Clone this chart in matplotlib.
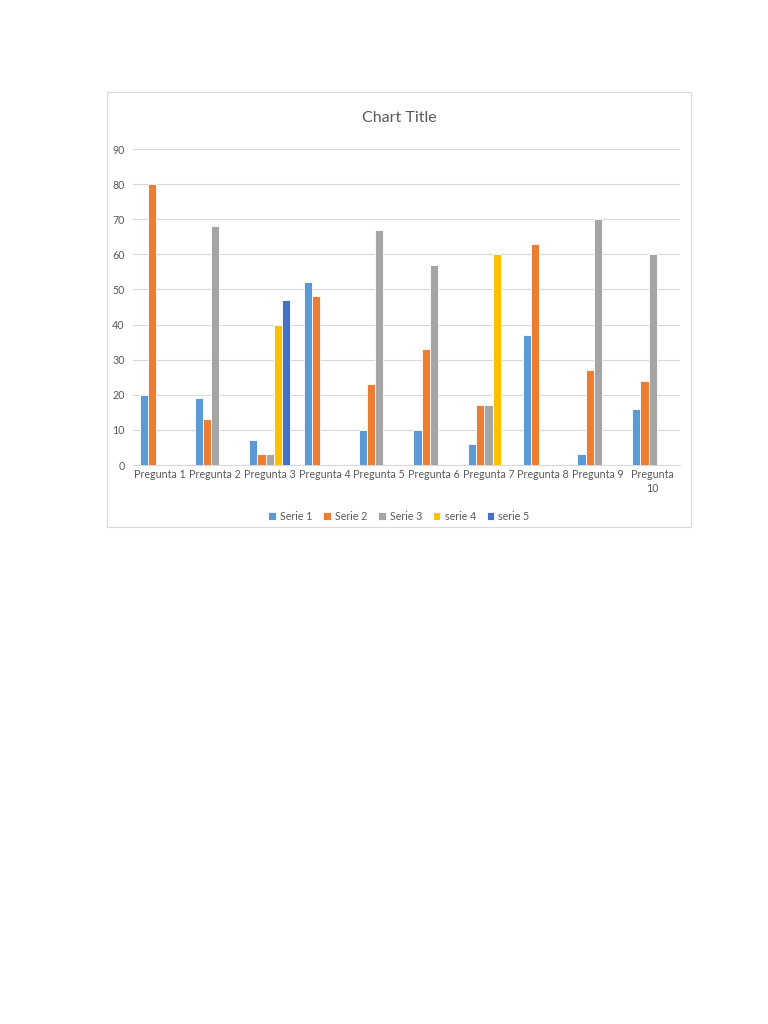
import matplotlib.pyplot as plt
import numpy as np
from matplotlib.patches import Rectangle

categories = ['Pregunta 1', 'Pregunta 2', 'Pregunta 3', 'Pregunta 4', 'Pregunta 5',
              'Pregunta 6', 'Pregunta 7', 'Pregunta 8', 'Pregunta 9', 'Pregunta\n10']
serie1 = [20, 19, 7, 52, 10, 10, 6, 37, 3, 16]
serie2 = [80, 13, 3, 48, 23, 33, 17, 63, 27, 24]
serie3 = [0, 68, 3, 0, 67, 57, 17, 0, 70, 60]
serie4 = [0, 0, 40, 0, 0, 0, 60, 0, 0, 0]
serie5 = [0, 0, 47, 0, 0, 0, 0, 0, 0, 0]
series_names = ['Serie 1', 'Serie 2', 'Serie 3', 'serie 4', 'serie 5']
colors = ['#5B9BD5', '#ED7D31', '#A5A5A5', '#FFC000', '#4472C4']

plt.rcParams['font.family'] = ['Lato', 'DejaVu Sans']

fig = plt.figure(figsize=(7.68, 10.24), dpi=100)
# chart frame
fig.patches.append(Rectangle((107 / 768, 1 - 527 / 1024), 584 / 768, 435 / 1024,
                             transform=fig.transFigure, facecolor='none',
                             edgecolor='#d9d9d9', linewidth=0.8, zorder=-1))

ax = fig.add_axes([133 / 768, 1 - 465 / 1024, 547 / 768, 316 / 1024])
ax.set_facecolor('none')

x = np.arange(len(categories))
w = 0.15
all_series = [serie1, serie2, serie3, serie4, serie5]
for i, (vals, name, c) in enumerate(zip(all_series, series_names, colors)):
    ax.bar(x + (i - 2) * w, vals, width=w, color=c, label=name,
           edgecolor='white', linewidth=0.6, zorder=3)

ax.set_xlim(-0.5, len(categories) - 0.5)
ax.set_ylim(0, 90)
ax.set_yticks(range(0, 91, 10))
ax.set_xticks(x)
ax.set_xticklabels(categories, fontsize=7.7, color='#595959', linespacing=1.3)
ax.tick_params(axis='y', labelsize=7.7, labelcolor='#595959', length=0, pad=6)
ax.tick_params(axis='x', length=0, pad=3)
ax.grid(axis='y', color='#d9d9d9', linewidth=0.8, zorder=0)
for s in ['top', 'right', 'left']:
    ax.spines[s].set_visible(False)
ax.spines['bottom'].set_color('#d9d9d9')
ax.spines['bottom'].set_linewidth(0.8)

fig.text(399 / 768, 1 - 118 / 1024, 'Chart Title', ha='center', va='center',
         fontsize=11.5, color='#595959')

fig.legend(loc='center', bbox_to_anchor=(399 / 768, 1 - 516 / 1024), ncol=5,
           frameon=False, fontsize=7.7, labelcolor='#595959', handlelength=0.7,
           handleheight=0.7, handletextpad=0.4, columnspacing=1.0)

fig.savefig('out.png', dpi=100, facecolor='white')
